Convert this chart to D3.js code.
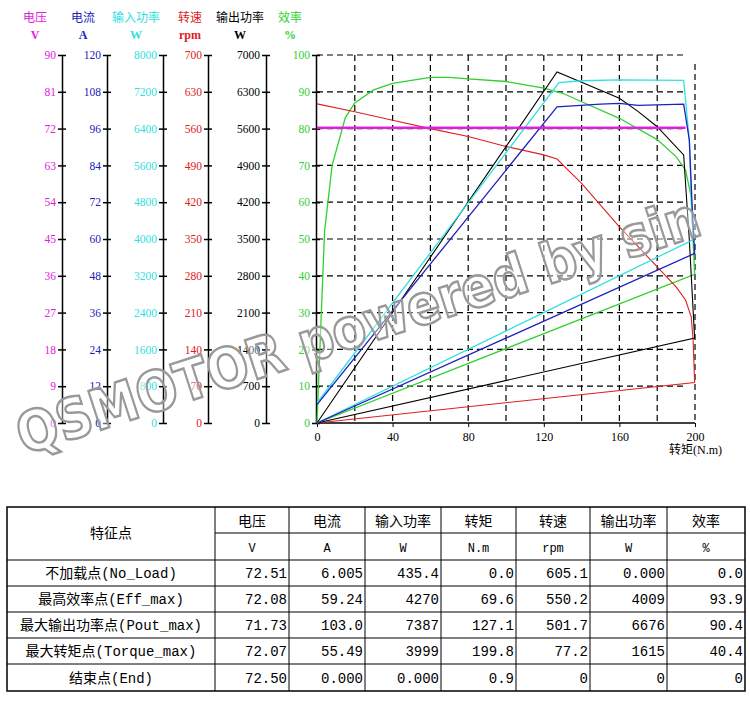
<!DOCTYPE html>
<html><head><meta charset="utf-8">
<script src="https://cdn.jsdelivr.net/npm/d3@7"></script>
<style>
body{margin:0;background:#fff}
text{font-family:"Liberation Serif","Noto Sans CJK SC",serif}
.tb text{font-family:"Liberation Mono","Noto Sans CJK SC",monospace}
</style></head>
<body><svg id="svg" width="750" height="704"></svg>
<script>
var svg = d3.select("#svg");

// torque axis, curves as [torque, value]
var torqueTicks = [0, 40, 80, 120, 160, 200];
var voltage = [[0,72.2],[195,72.2]];
var current = [[0,6.0],[127,103.1],[150,104],[160,104.2],[170,103.6],[194,104],[197,92.3],[198.5,70.5],[199.8,55.3],[0,0]];
var inputPower = [[0,435],[128,7398],[140,7440],[160,7460],[194,7450],[197,6150],[198.5,4350],[199.8,3999],[0,0]];
var speed = [[0,607],[20,592],[40,576],[60,560],[80,545],[100,526],[120,510],[127,502],[140,456],[160,373],[180,297],[190,259],[195,234],[198,202],[199,158],[199.8,77],[0,0]];
var outputPower = [[0,0],[127,6676],[140,6480],[160,6176],[170,5922],[180,5636],[194,5098],[197,3481],[199.8,1615],[0,0]];
var efficiency = [[0,0],[4,52],[8,70],[15,83],[20,87],[30,90.5],[40,92.3],[60,93.9],[70,93.9],[80,93.5],[100,92.8],[120,91],[130,89.6],[140,87.3],[160,82.8],[180,77],[190,72.4],[195,68.7],[198,61.5],[199.8,40.4],[0,0]];

var axes = [
  {name:"电压", unit:"V", max:90, color:"#e020e0", x:62, hx:35, data:voltage, w:2.5},
  {name:"电流", unit:"A", max:120, color:"#2020c0", x:107, hx:83, data:current, w:1.3},
  {name:"输入功率", unit:"W", max:8000, color:"#30e0e0", x:163, hx:136, data:inputPower, w:1.3},
  {name:"转速", unit:"rpm", max:700, color:"#e02020", x:208, hx:190, data:speed, w:1.1},
  {name:"输出功率", unit:"W", max:7000, color:"#000", x:266, hx:240, data:outputPower, w:1.1},
  {name:"效率", unit:"%", max:100, color:"#30d030", x:316, hx:290, data:efficiency, w:1.3}
];

var tableHead = ["电压","电流","输入功率","转矩","转速","输出功率","效率"];
var tableUnits = ["V","A","W","N.m","rpm","W","%"];
var rowNames = ["不加载点(No_Load)","最高效率点(Eff_max)","最大输出功率点(Pout_max)","最大转矩点(Torque_max)","结束点(End)"];
var rowValues = [
  ["72.51","6.005","435.4","0.0","605.1","0.000","0.0"],
  ["72.08","59.24","4270","69.6","550.2","4009","93.9"],
  ["71.73","103.0","7387","127.1","501.7","6676","90.4"],
  ["72.07","55.49","3999","199.8","77.2","1615","40.4"],
  ["72.50","0.000","0.000","0.9","0","0","0"]
];

var L = 317, R = 695, T = 55, B = 423;
var x = d3.scaleLinear().domain([0,200]).range([L,R]);

// grid
var g = svg.append("g");
d3.range(1,11).forEach(function(i){
  var yy = B - (B-T)*i/10;
  g.append("line").attr("x1",L).attr("x2",R-8).attr("y1",yy).attr("y2",yy)
    .attr("stroke","#000").attr("stroke-dasharray","6,4").attr("stroke-width",1.2);
});
d3.range(1,11).forEach(function(i){
  var xx = x(i*20);
  g.append("line").attr("x1",xx).attr("x2",xx).attr("y1",i==10?T+9:T).attr("y2",B)
    .attr("stroke","#000").attr("stroke-dasharray","6,4").attr("stroke-width",1.2);
});
g.append("line").attr("x1",L).attr("x2",R).attr("y1",B).attr("y2",B).attr("stroke","#000").attr("stroke-width",1.5);

var xa = svg.append("g").attr("transform","translate(0,"+B+")")
  .call(d3.axisBottom(x).tickValues(torqueTicks).tickSize(4).tickFormat(d3.format("d")));
xa.select(".domain").remove();
xa.selectAll("text").attr("font-size",12).attr("font-family","Liberation Serif").attr("dy","0.9em");
svg.append("text").attr("x",722).attr("y",454).attr("text-anchor","end").attr("font-size",12).text("转矩(N.m)");

// y axes
axes.forEach(function(a){
  a.y = d3.scaleLinear().domain([0,a.max]).range([B,T]);
  var ax = svg.append("g").attr("transform","translate("+a.x+",0)")
    .call(d3.axisLeft(a.y).tickValues(d3.range(11).map(function(i){return a.max*i/10;})).tickSize(4).tickSizeOuter(0).tickFormat(d3.format("d")));
  ax.select(".domain").attr("stroke","#000").attr("stroke-width",1.5);
  ax.selectAll(".tick line").attr("x2",4).attr("x1",-4).attr("stroke-width",1.5);
  ax.selectAll("text").attr("fill",a.color).attr("font-size",11.5).attr("font-family","Liberation Serif").attr("x",-6);
  svg.append("text").attr("x",a.hx).attr("y",22).attr("text-anchor","middle").attr("font-size",12).attr("fill",a.color).text(a.name);
  svg.append("text").attr("x",a.hx).attr("y",39).attr("text-anchor","middle").attr("font-size",12).attr("font-weight","bold").attr("fill",a.color).text(a.unit);
});

// curves
[5,3,4,2,1,0].forEach(function(k){
  var a = axes[k];
  svg.append("path").datum(a.data)
    .attr("d", d3.line().x(function(d){return x(d[0]);}).y(function(d){return a.y(d[1]);}))
    .attr("fill","none").attr("stroke",a.color).attr("stroke-width",a.w);
});

// watermark
svg.append("text").attr("transform","translate(24,455) rotate(-18)")
  .attr("font-size",56).style("font-weight","bold").style("font-family","DejaVu Sans")
  .attr("fill","rgba(255,255,255,0.4)").attr("stroke","#999").attr("stroke-width",2.5)
  .attr("textLength",715).attr("lengthAdjust","spacingAndGlyphs")
  .text("QSMOTOR powered by sin");

// table
var cols = [7,215,289,365,441,516,590,667,745];
var rowsY = [507,533,560,586,612,638,664,691];
var tb = svg.append("g").attr("class","tb");
tb.append("rect").attr("x",7).attr("y",507).attr("width",738).attr("height",184).attr("fill","none").attr("stroke","#000").attr("stroke-width",1.5);
cols.slice(1,-1).forEach(function(c){
  tb.append("line").attr("x1",c).attr("x2",c).attr("y1",507).attr("y2",691).attr("stroke","#000");
});
rowsY.slice(1,-1).forEach(function(r,i){
  tb.append("line").attr("x1",i==0?215:7).attr("x2",745).attr("y1",r).attr("y2",r).attr("stroke","#000");
});
tb.append("text").attr("x",111).attr("y",538).attr("text-anchor","middle").attr("font-size",14).text("特征点");
tableHead.forEach(function(h,i){
  tb.append("text").attr("x",(cols[i+1]+cols[i+2])/2).attr("y",526).attr("text-anchor","middle").attr("font-size",14).text(h);
  tb.append("text").attr("x",(cols[i+1]+cols[i+2])/2).attr("y",552).attr("text-anchor","middle").attr("font-size",12).text(tableUnits[i]);
});
rowNames.forEach(function(n,r){
  var yy = rowsY[r+3]-8;
  tb.append("text").attr("x",111).attr("y",yy).attr("text-anchor","middle").attr("font-size",14).text(n);
  rowValues[r].forEach(function(v,i){
    tb.append("text").attr("x",cols[i+2]-2).attr("y",yy).attr("text-anchor","end").attr("font-size",14).text(v);
  });
});
</script></body></html>
